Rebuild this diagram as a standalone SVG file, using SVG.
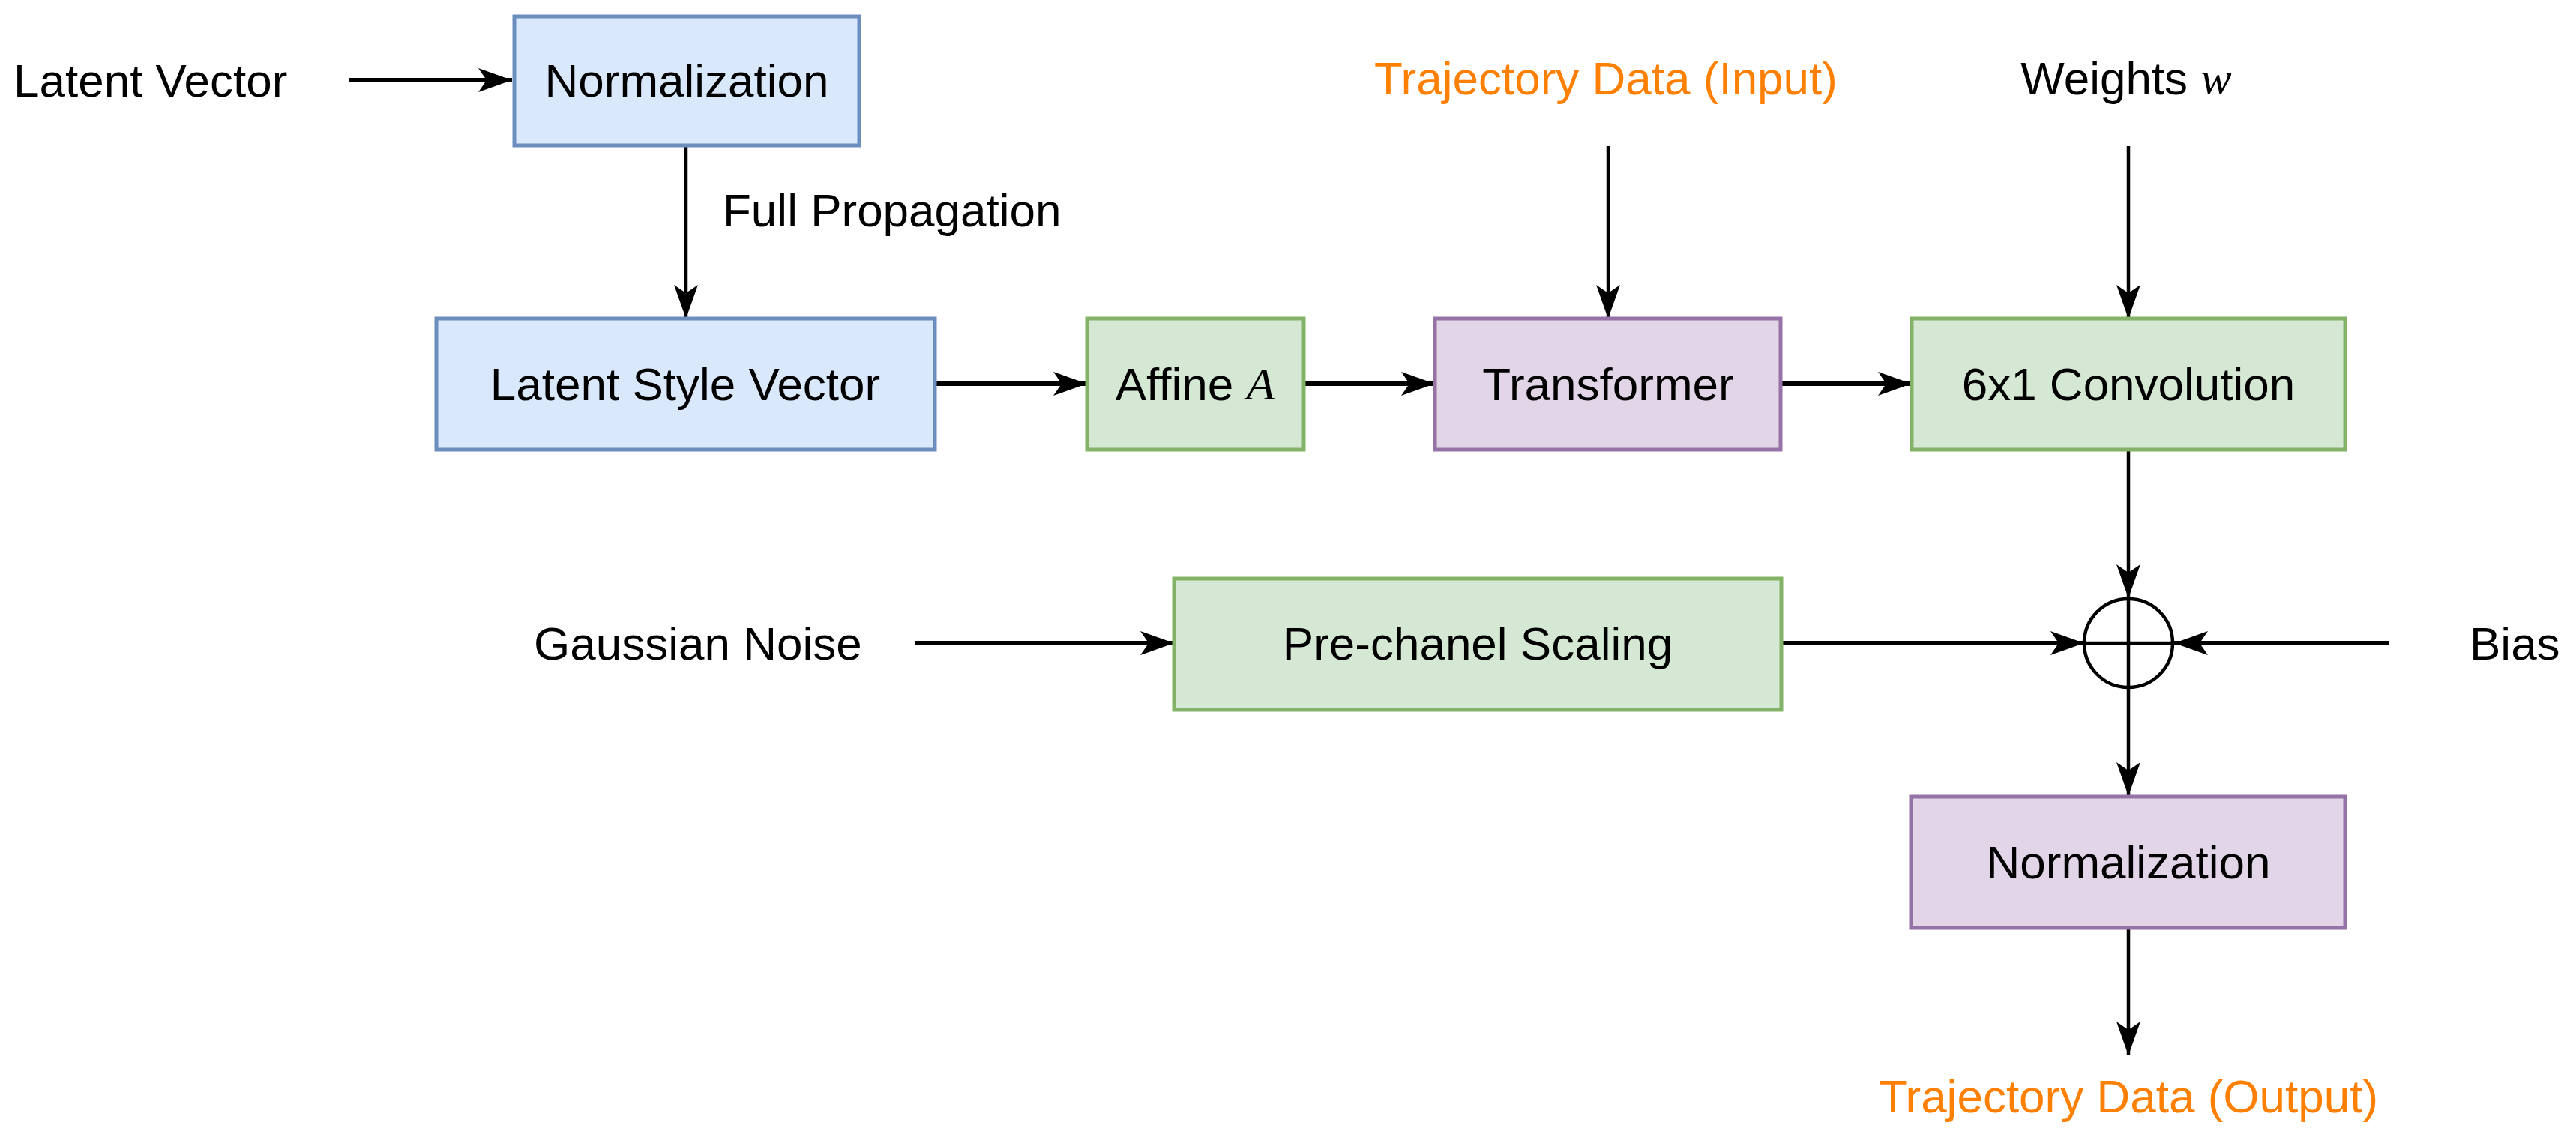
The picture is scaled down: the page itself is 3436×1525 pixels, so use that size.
<svg xmlns="http://www.w3.org/2000/svg" width="3436" height="1525" viewBox="0 0 3436 1525">
<style>
text{font-family:"Liberation Sans",Arial,sans-serif;font-size:62px;fill:#000;dominant-baseline:central}
.m{text-anchor:middle}
.o{fill:#ff8000}
.math{font-family:"Liberation Serif","Times New Roman",serif;font-style:italic}
.blue{fill:#dae8fc;stroke:#6c8ebf;stroke-width:5}
.green{fill:#d5e8d4;stroke:#82b366;stroke-width:5}
.purple{fill:#e1d5e7;stroke:#9673a6;stroke-width:5}
.c{fill:none;stroke:#000;stroke-width:4.5;marker-end:url(#ah)}
.h{stroke-width:6}
</style>
<defs>
<marker id="ah" markerUnits="userSpaceOnUse" markerWidth="50" markerHeight="34" refX="45" refY="16" orient="auto">
<path d="M0,0 L45,16 L0,32 L11,16 z" fill="#000"/>
</marker>
</defs>
<rect width="3436" height="1525" fill="#fff"/>
<g id="connectors">
<path class="c h" d="M465,107 H683"/>
<path class="c" d="M915,196 V425"/>
<path class="c h" d="M1247,512 H1450"/>
<path class="c h" d="M1739,512 H1914"/>
<path class="c h" d="M2375,512 H2550"/>
<path class="c" d="M2145,195 V425"/>
<path class="c" d="M2839,195 V425"/>
<path class="c" d="M2839,600 V798"/>
<path class="c h" d="M1220,858 H1566"/>
<path class="c h" d="M2376,858 H2780"/>
<path class="c h" d="M3186,858 H2900"/>
<path class="c" d="M2839,918 V1062"/>
<path class="c" d="M2839,1238 V1408"/>
</g>
<g id="latent-vector"><text x="18" y="107">Latent Vector</text></g>
<g id="normalization-top"><rect class="blue" x="686" y="22" width="460" height="172"/><text class="m" x="916" y="107">Normalization</text></g>
<g id="full-propagation"><text x="964" y="280">Full Propagation</text></g>
<g id="latent-style-vector"><rect class="blue" x="582" y="425" width="665" height="175"/><text class="m" x="914" y="512">Latent Style Vector</text></g>
<g id="affine"><rect class="green" x="1450" y="425" width="289" height="175"/><text class="m" x="1594" y="512">Affine <tspan class="math">A</tspan></text></g>
<g id="transformer"><rect class="purple" x="1914" y="425" width="461" height="175"/><text class="m" x="2145" y="512">Transformer</text></g>
<g id="convolution"><rect class="green" x="2550" y="425" width="578" height="175"/><text class="m" x="2839" y="512">6x1 Convolution</text></g>
<g id="trajectory-input"><text class="m o" x="2142" y="104">Trajectory Data (Input)</text></g>
<g id="weights"><text class="m" x="2836" y="104">Weights <tspan class="math">w</tspan></text></g>
<g id="gaussian-noise"><text x="712" y="858">Gaussian Noise</text></g>
<g id="scaling"><rect class="green" x="1566" y="772" width="810" height="175"/><text class="m" x="1971" y="858">Pre-chanel Scaling</text></g>
<g id="sum"><circle cx="2839" cy="858" r="59" fill="none" stroke="#000" stroke-width="4.5"/><path d="M2780,858 H2898 M2839,799 V917" stroke="#000" stroke-width="4.5"/></g>
<g id="bias"><text x="3294" y="858">Bias</text></g>
<g id="normalization-bottom"><rect class="purple" x="2549" y="1063" width="579" height="175"/><text class="m" x="2839" y="1150">Normalization</text></g>
<g id="trajectory-output"><text class="m o" x="2839" y="1462">Trajectory Data (Output)</text></g>
</svg>
